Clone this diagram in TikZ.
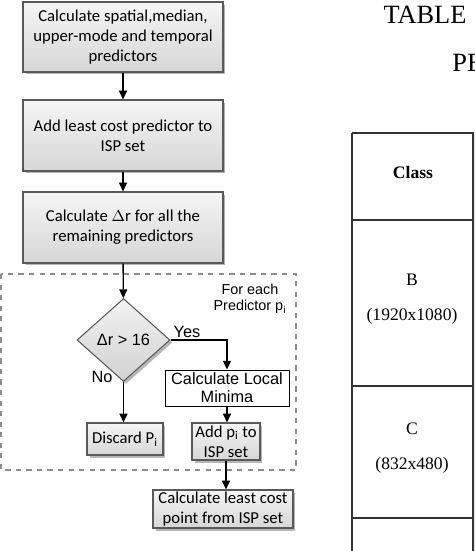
\documentclass[tikz,border=0pt]{standalone}
\usepackage{fontspec}
\setmainfont{Liberation Serif}
\newfontfamily\calibrifont{Carlito}
\newfontfamily\arialfont{Liberation Sans}
\usetikzlibrary{shapes.geometric,shadows,arrows.meta}

\tikzset{
  proc/.style={draw=black!65, line width=0.6pt, top color=black!4, bottom color=black!16,
    drop shadow={shadow xshift=0.05cm, shadow yshift=-0.05cm, fill=black!40, opacity=0.7},
    align=center, inner sep=0pt, font=\calibrifont\fontsize{9.5}{11.4}\selectfont},
  plainbox/.style={draw=black, line width=0.5pt, fill=white, align=center, inner sep=0pt,
    font=\arialfont\fontsize{9.3}{10.4}\selectfont},
  decide/.style={diamond, draw=black!65, line width=0.6pt, top color=black!5, bottom color=black!18,
    drop shadow={shadow xshift=0.05cm, shadow yshift=-0.05cm, fill=black!40, opacity=0.7},
    inner sep=0pt, minimum width=1.86cm, minimum height=1.66cm,
    font=\arialfont\fontsize{9.3}{11}\selectfont},
  lbl/.style={inner sep=0pt, font=\arialfont\fontsize{9.3}{11}\selectfont},
  flow/.style={line width=0.8pt, -{Triangle[length=5pt,width=4.5pt]}},
  cell/.style={inner sep=0pt, align=center, font=\fontsize{10}{12}\selectfont},
  tline/.style={black!80, line width=0.8pt}
}

\begin{document}
\begin{tikzpicture}[x=0.02cm, y=-0.02cm]
\useasboundingbox (0,0) rectangle (474,551);
\clip (0,0) rectangle (474,551);
\draw[black!45, line width=0.6pt, dashed] (1,274) rectangle (296,470);
\node[proc, minimum width=4.0cm, minimum height=1.4cm] (pred) at (123,37)
  {Calculate spatial,median,\\upper-mode and temporal\\predictors};
\node[proc, minimum width=4.0cm, minimum height=1.42cm] (addleast) at (123,135.5)
  {Add least cost predictor to\\ISP set};
\node[proc, minimum width=4.0cm, minimum height=1.42cm] (delta) at (123,227.5)
  {Calculate $\Delta$r for all the\\remaining predictors};
\node[decide] (check) at (123.5,340) {Δr > 16};
\node[plainbox, minimum width=2.48cm, minimum height=0.72cm] (minima) at (227,388)
  {Calculate Local\\Minima};
\node[proc, minimum width=1.52cm, minimum height=0.64cm] (discard) at (125,439)
  {Discard P\textsubscript{i}};
\node[proc, minimum width=1.36cm, minimum height=0.74cm] (addpi) at (226,441.5)
  {Add p\textsubscript{i} to\\ISP set};
\node[proc, minimum width=2.8cm, minimum height=0.76cm] (final) at (223,509)
  {Calculate least cost\\point from ISP set};
\node[lbl, align=center, font=\arialfont\fontsize{8.2}{9.4}\selectfont] (foreach) at (250,299)
  {For each\\Predictor p\textsubscript{i}};
\node[lbl] (yes) at (187,332) {Yes};
\node[lbl] (no) at (102,377) {No};
\draw[flow] (pred) -- (addleast);
\draw[flow] (addleast) -- (delta);
\draw[flow] (delta) -- (check);
\draw[flow] (check.east) -| (minima.north);
\draw[flow] (check.south) -- (check.south |- discard.north);
\draw[flow] (minima.south) -- (minima.south |- addpi.north);
\draw[flow] (addpi.south) -- (addpi.south |- final.north);
\node[inner sep=0pt, font=\fontsize{15}{18}\selectfont] (title) at (425,15) {TABLE};
\node[inner sep=0pt, anchor=west, font=\fontsize{15}{18}\selectfont] (subtitle) at (452,63) {PE};
\draw[tline] (352,133) -- (352,551);
\draw[tline, line width=1.2pt] (473.5,133) -- (473.5,551);
\draw[tline] (352,133) -- (474,133);
\draw[tline] (352,220) -- (474,220);
\draw[tline] (352,386) -- (474,386);
\draw[tline] (352,518) -- (474,518);
\node[cell, font=\bfseries\fontsize{10}{12}\selectfont] (class) at (413,172) {Class};
\node[cell] (classb) at (412,299) {B\\[8pt](1920x1080)};
\node[cell] (classc) at (412,448) {C\\[8pt](832x480)};
\end{tikzpicture}
\end{document}
